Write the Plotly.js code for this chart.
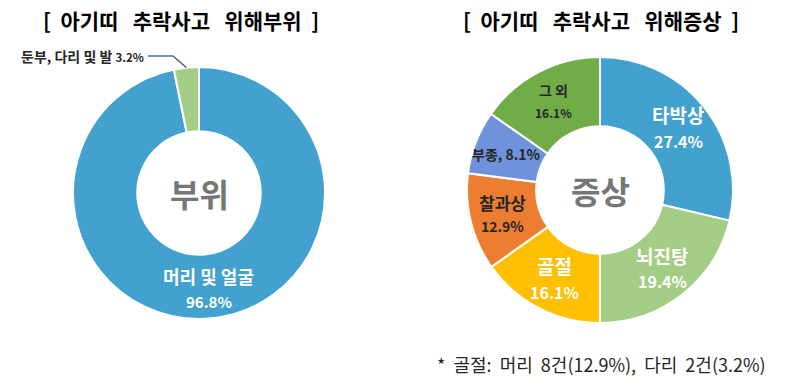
<!DOCTYPE html>
<html>
<head>
<meta charset="utf-8">
<script src="https://cdn.plot.ly/plotly-3.0.1.min.js"></script>
<style>html,body{margin:0;padding:0;background:#fff;}#chart{width:800px;height:389px;}</style>
</head>
<body>
<div id="chart"></div>
<script>
// ---- data ----
const leftTitle = '[\u00a0\u00a0아기띠\u00a0\u00a0\u00a0추락사고\u00a0\u00a0\u00a0위해부위\u00a0\u00a0]';
const rightTitle = '[\u00a0\u00a0아기띠\u00a0\u00a0\u00a0추락사고\u00a0\u00a0\u00a0위해증상\u00a0\u00a0]';
const leftCenter = '부위';
const rightCenter = '증상';
const leftLabels = ['머리 및 얼굴', '둔부, 다리 및 발'];
const leftValues = [96.8, 3.2];
const rightLabels = ['타박상', '뇌진탕', '골절', '찰과상', '부종', '그 외'];
// slice sizes as drawn in the picture (%)
const rightShares = [28.7, 21.3, 15.2, 11.8, 7.7, 15.3];
// percentages printed on the labels
const rightPct = [27.4, 19.4, 16.1, 12.9, 8.1, 16.1];
const footnote = '*\u00a0\u00a0골절:\u00a0\u00a0머리\u00a0\u00a08건(12.9%),\u00a0\u00a0다리\u00a0\u00a02건(3.2%)';

// ---- styles / layout ----
const W = 800, H = 389;
const FONT = '"Noto Sans CJK KR", "Noto Sans", sans-serif';
const leftColors = ['#42A1CE', '#A3CD84'];
const rightColors = ['#42A1CE', '#A3CD84', '#FFC000', '#ED7D31', '#6F92DA', '#70AD47'];
const rightTextColors = ['#ffffff', '#ffffff', '#ffffff', '#262626', '#262626', '#262626'];
const rightLabelSizes = [19, 19, 19, 17, 14, 14];
const rightPctSizes = [16, 16, 16, 14, 14, 12];
const rightGaps = [13, 13, 13, 12, 0, 11];
const L = {cx: 199, cy: 193, r: 126, hole: 0.49};
const R = {cx: 600, cy: 190, r: 133, hole: 0.48};

function domainOf(g) {
  return {x: [(g.cx - g.r) / W, (g.cx + g.r) / W], y: [(H - g.cy - g.r) / H, (H - g.cy + g.r) / H]};
}
function midAngles(vals) {
  const tot = vals.reduce((a, b) => a + b, 0);
  let c = 0; const out = [];
  vals.forEach(v => { out.push((c + v / 2) / tot * 360); c += v; });
  return out;
}
function polar(g, ang, rad) {
  const a = ang * Math.PI / 180;
  return {x: g.cx + rad * Math.sin(a), y: g.cy - rad * Math.cos(a)};
}
const px = x => x / W, py = y => (H - y) / H;
function note(x, y, text, font, extra) {
  return Object.assign({x: px(x), y: py(y), xref: 'paper', yref: 'paper', xanchor: 'center', yanchor: 'middle',
    showarrow: false, text: text, font: font}, extra || {});
}

const traces = [
  {type: 'pie', labels: leftLabels, values: leftValues, sort: false, direction: 'clockwise', rotation: 0,
   hole: L.hole, domain: domainOf(L), textinfo: 'none', hoverinfo: 'none', showlegend: false,
   marker: {colors: leftColors, line: {color: '#ffffff', width: 2}}},
  {type: 'pie', labels: rightLabels, values: rightShares, sort: false, direction: 'clockwise', rotation: 0,
   hole: R.hole, domain: domainOf(R), textinfo: 'none', hoverinfo: 'none', showlegend: false,
   marker: {colors: rightColors, line: {color: '#ffffff', width: 2}}}
];

const ann = [];
ann.push(note(181, 20, '<b>' + leftTitle + '</b>', {family: FONT, size: 21, color: '#000'}));
ann.push(note(601, 20, '<b>' + rightTitle + '</b>', {family: FONT, size: 21, color: '#000'}));
ann.push(note(L.cx, L.cy, '<b>' + leftCenter + '</b>', {family: FONT, size: 32, color: '#767676'}));
ann.push(note(R.cx, R.cy, '<b>' + rightCenter + '</b>', {family: FONT, size: 32, color: '#767676'}));

// left labels
const lm = midAngles(leftValues);
const p0 = polar(L, lm[0], 96);
ann.push(note(p0.x, p0.y - 13, '<b>' + leftLabels[0] + '</b>', {family: FONT, size: 18, color: '#ffffff'}));
ann.push(note(p0.x, p0.y + 13, '<b>' + leftValues[0].toFixed(1) + '%</b>', {family: FONT, size: 15, color: '#ffffff'}));
const edge = polar(L, lm[1], L.r);
ann.push(note(146, 56,
  '<b>' + leftLabels[1] + ' <span style="font-size:11.5px">' + leftValues[1].toFixed(1) + '%</span></b>',
  {family: FONT, size: 14, color: '#262626'}, {xanchor: 'right'}));

// right labels
const rm = midAngles(rightShares);
rightLabels.forEach((lab, i) => {
  const p = polar(R, rm[i], 100);
  const f1 = {family: FONT, size: rightLabelSizes[i], color: rightTextColors[i]};
  const f2 = {family: FONT, size: rightPctSizes[i], color: rightTextColors[i]};
  if (lab === '부종') {
    ann.push(note(p.x, p.y, '<b>' + lab + ', ' + rightPct[i].toFixed(1) + '%</b>', f2));
  } else {
    ann.push(note(p.x, p.y - rightGaps[i], '<b>' + lab + '</b>', f1));
    ann.push(note(p.x, p.y + rightGaps[i], '<b>' + rightPct[i].toFixed(1) + '%</b>', f2));
  }
});

ann.push(note(601, 364, footnote, {family: FONT, size: 18, color: '#262626'}));

const shapes = [{type: 'path', xref: 'paper', yref: 'paper',
  path: 'M ' + px(148) + ',' + py(56) + ' L ' + px(173) + ',' + py(56) + ' L ' + px(edge.x) + ',' + py(edge.y),
  line: {color: '#4A6D99', width: 1.5}}];

Plotly.newPlot('chart', traces, {
  width: W, height: H, margin: {l: 0, r: 0, t: 0, b: 0},
  paper_bgcolor: '#ffffff', plot_bgcolor: '#ffffff',
  annotations: ann, shapes: shapes, showlegend: false
}, {staticPlot: true});
</script>
</body>
</html>
